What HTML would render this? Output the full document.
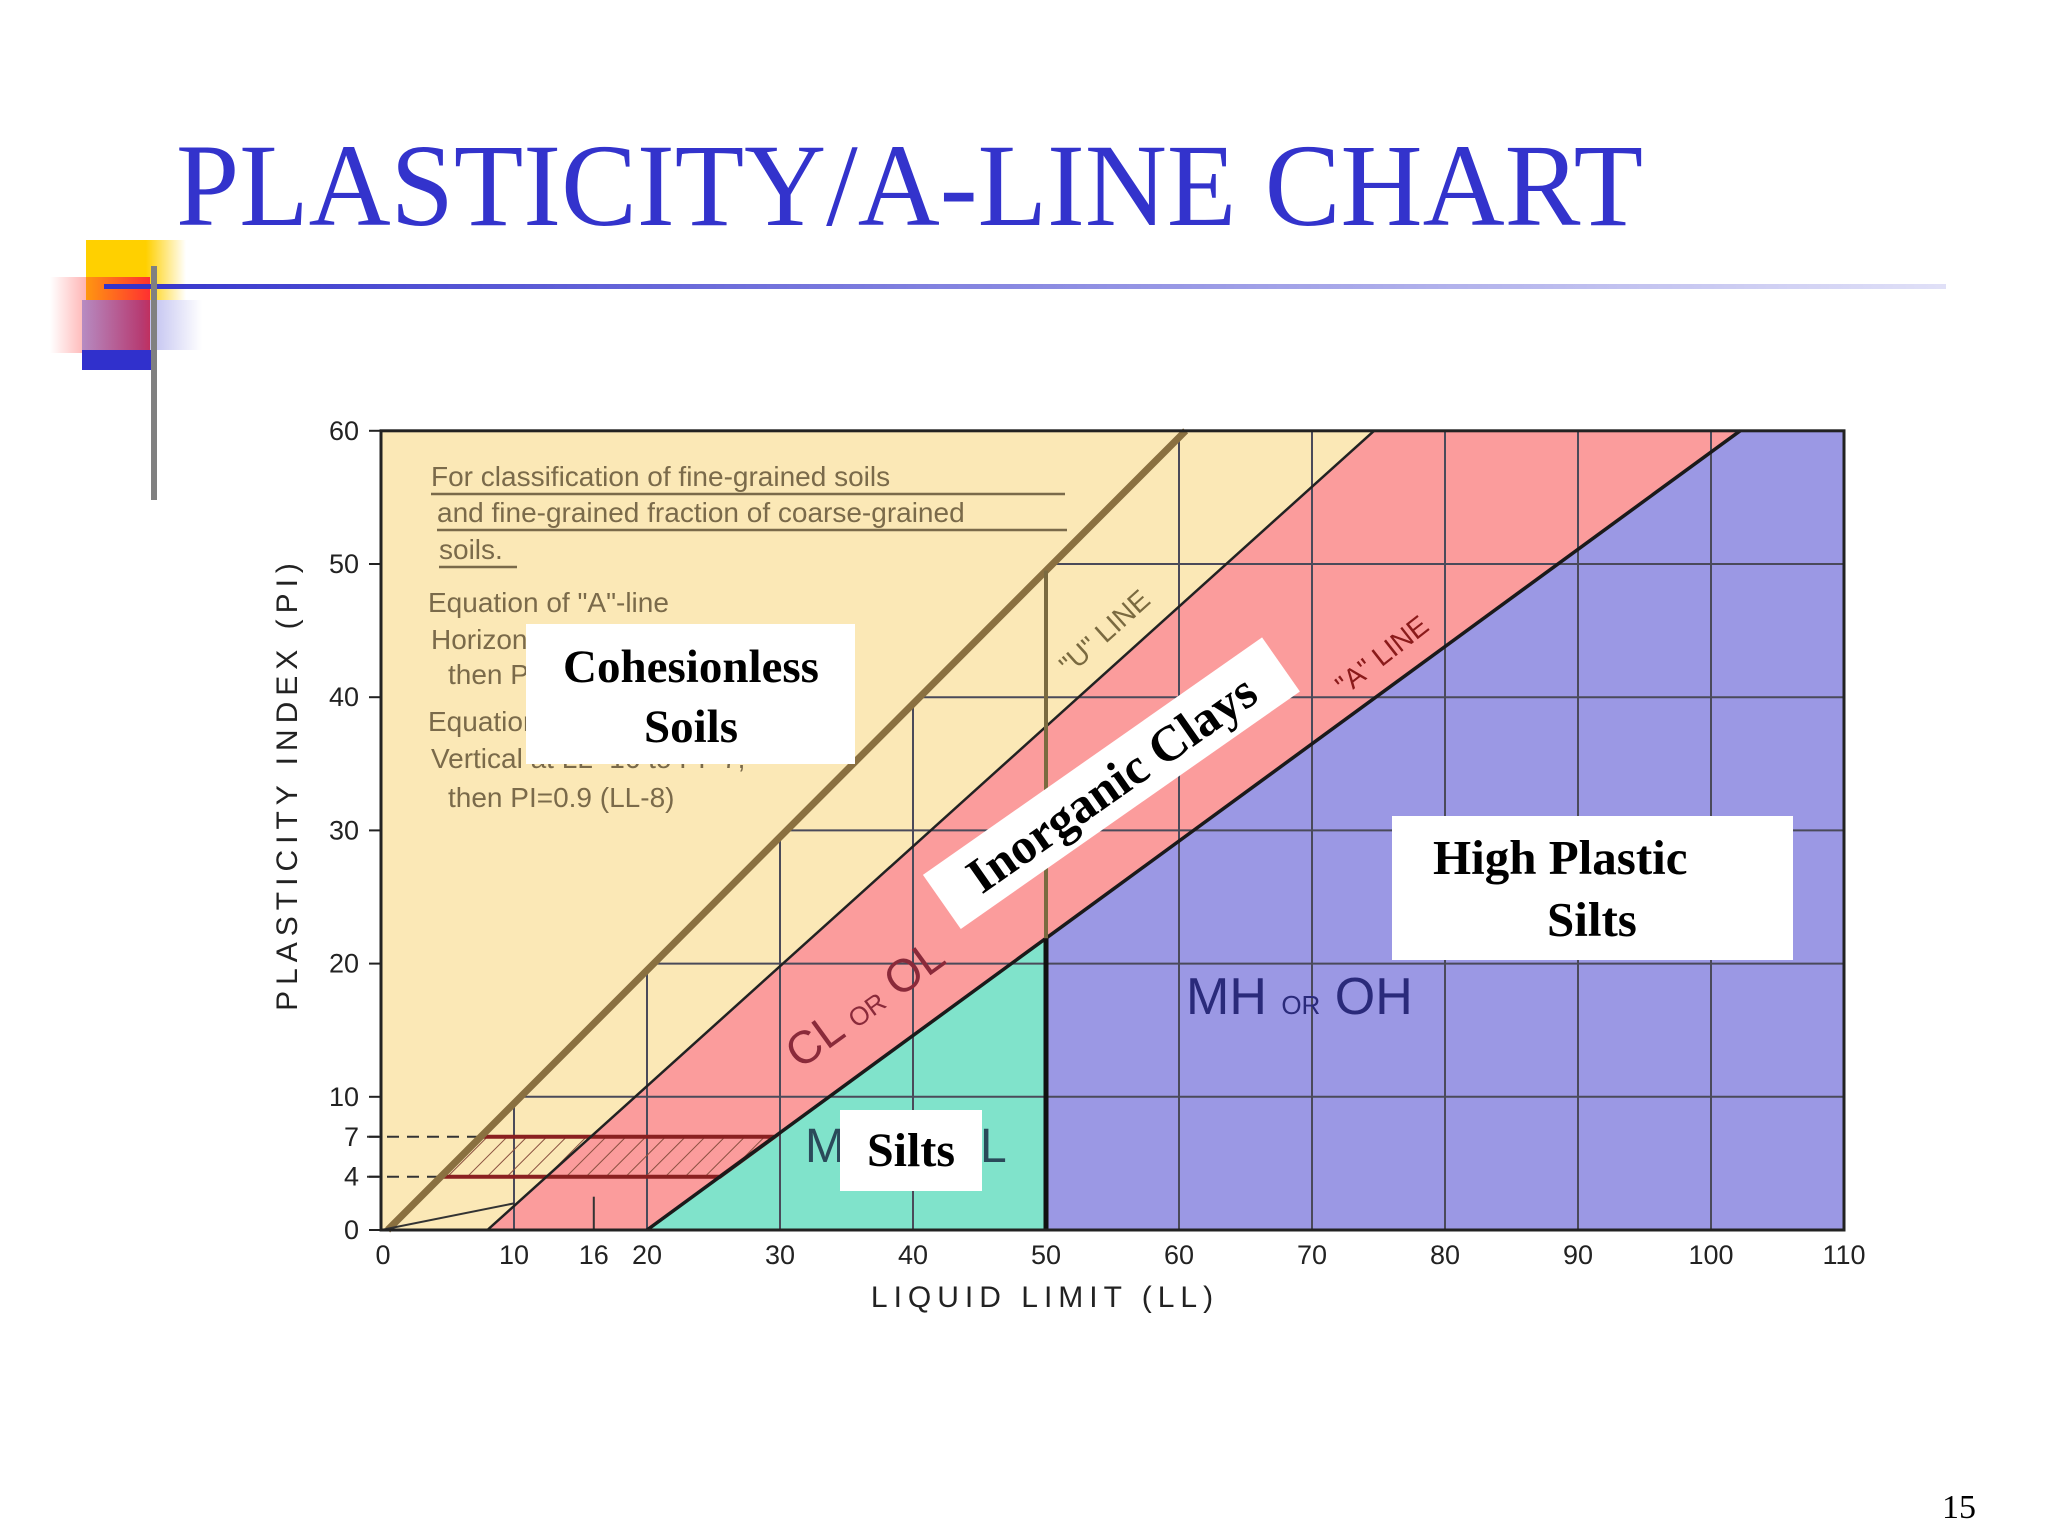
<!DOCTYPE html>
<html><head><meta charset="utf-8"><style>
html,body{margin:0;padding:0;background:#fff;}
svg{display:block;}
</style></head><body>
<svg id="s" width="2048" height="1536" viewBox="0 0 2048 1536" xmlns="http://www.w3.org/2000/svg">
<defs>
<linearGradient id="hl" x1="0" x2="1"><stop offset="0" stop-color="#3333cc"/><stop offset="1" stop-color="#3333cc" stop-opacity="0.15"/></linearGradient>
<linearGradient id="rg" x1="1" x2="0" y1="0" y2="0"><stop offset="0" stop-color="#ff3030"/><stop offset="1" stop-color="#ff3030" stop-opacity="0"/></linearGradient>
<linearGradient id="yg" x1="0" x2="1"><stop offset="0.6" stop-color="#ffd000"/><stop offset="1" stop-color="#ffd000" stop-opacity="0"/></linearGradient>
<linearGradient id="bg" x1="0" x2="1"><stop offset="0.5" stop-color="#3030cc"/><stop offset="1" stop-color="#3030cc" stop-opacity="0"/></linearGradient>
<pattern id="hatch" width="14" height="14" patternUnits="userSpaceOnUse" patternTransform="rotate(45)"><line x1="0" y1="0" x2="0" y2="14" stroke="#8a5040" stroke-width="2"/></pattern>
</defs>
<rect width="2048" height="1536" fill="#fff"/>
<g>
<rect x="86" y="240" width="100" height="60" fill="url(#yg)"/>
<rect x="50" y="277" width="100" height="76" fill="url(#rg)"/>
<rect x="82" y="300" width="120" height="50" fill="url(#bg)" opacity="0.35"/>
<rect x="82" y="350" width="70" height="20" fill="#3030cc"/>
<rect x="104" y="284" width="1842" height="5" fill="url(#hl)"/>
<rect x="151" y="266" width="6" height="234" fill="#808080"/>
</g>
<text x="176" y="225" font-family="Liberation Serif, serif" font-size="118" fill="#3333cc" textLength="1467" lengthAdjust="spacingAndGlyphs">PLASTICITY/A-LINE CHART</text>
<g id="chart"></g>
<text x="1942" y="1518" font-family="Liberation Serif, serif" font-size="34" fill="#000">15</text>
</svg>
<script>
const xTicks=[0,10,16,20,30,40,50,60,70,80,90,100,110];
const yTicks=[0,4,7,10,20,30,40,50,60];
const gridX=[10,20,30,40,50,60,70,80,90,100];
const gridY=[10,20,30,40,50];
const aLine=[0.73,20];   // PI = 0.73(LL-20)
const uLine=[0.9,8];     // PI = 0.9(LL-8)
const brownLine=[1.0,0.5];
const llMax=110, piMax=60, llSplit=50, clmlBand=[4,7];

const NS='http://www.w3.org/2000/svg';
const X=v=>381+v*13.3, Y=v=>1230-v*13.32;
const g=document.getElementById('chart');
function el(t,a,p){const e=document.createElementNS(NS,t);for(const k in a)e.setAttribute(k,a[k]);(p||g).appendChild(e);return e;}
const pts=a=>a.map(p=>X(p[0])+','+Y(p[1])).join(' ');
const aLL=pi=>pi/aLine[0]+aLine[1], uLL=pi=>pi/uLine[0]+uLine[1], bLL=pi=>pi/brownLine[0]+brownLine[1];
const aPI=ll=>aLine[0]*(ll-aLine[1]);

let e;
e=el('rect',{x:X(0),y:Y(piMax),width:X(llMax)-X(0),height:Y(0)-Y(piMax),fill:'#fbe8b6'});


e=el('polygon',{points:pts([[uLine[1],0],[uLL(piMax),piMax],[aLL(piMax),piMax],[aLine[1],0]]),fill:'#fb9c9c'});


e=el('polygon',{points:pts([[aLine[1],0],[llSplit,0],[llSplit,aPI(llSplit)]]),fill:'#80e3cb'});


e=el('polygon',{points:pts([[llSplit,0],[llMax,0],[llMax,piMax],[aLL(piMax),piMax],[llSplit,aPI(llSplit)]]),fill:'#9b98e4'});



gridY.forEach(v=>{const l=el('line',{x1:X(bLL(v)),x2:X(llMax),y1:Y(v),y2:Y(v),stroke:'#4a4a5a','stroke-width':2});

});
gridX.forEach(v=>{const l=el('line',{x1:X(v),x2:X(v),y1:Y(0),y2:Y(Math.min(piMax,v-brownLine[1])),stroke:'#4a4a5a','stroke-width':2});

});

e=el('polygon',{points:pts([[bLL(clmlBand[0]),clmlBand[0]],[aLL(clmlBand[0]),clmlBand[0]],[aLL(clmlBand[1]),clmlBand[1]],[bLL(clmlBand[1]),clmlBand[1]]]),fill:'url(#hatch)',stroke:'#8a2020','stroke-width':4});


yTicks.filter(v=>v===4||v===7).forEach(v=>{const l=el('line',{x1:X(0)-14,x2:X(bLL(v)),y1:Y(v),y2:Y(v),stroke:'#333','stroke-width':2,'stroke-dasharray':'12,8'});

});
e=el('line',{x1:X(16),x2:X(16),y1:Y(0),y2:Y(2.5),stroke:'#333','stroke-width':2});



e=el('line',{x1:X(brownLine[1]),y1:Y(0),x2:X(bLL(piMax)),y2:Y(piMax),stroke:'#8a7040','stroke-width':7});


e=el('line',{x1:X(uLine[1]),y1:Y(0),x2:X(uLL(piMax)),y2:Y(piMax),stroke:'#222','stroke-width':2.5});


e=el('line',{x1:X(aLine[1]),y1:Y(0),x2:X(aLL(piMax)),y2:Y(piMax),stroke:'#1a1a1a','stroke-width':3.5});


e=el('line',{x1:X(llSplit),y1:Y(0),x2:X(llSplit),y2:Y(aPI(llSplit)),stroke:'#111','stroke-width':5});


e=el('line',{x1:X(llSplit),y1:Y(aPI(llSplit)),x2:X(llSplit),y2:Y(llSplit-brownLine[1]),stroke:'#7a6a40','stroke-width':4});


e=el('line',{x1:X(0),y1:Y(0),x2:X(uLine[1]+2),y2:Y(2),stroke:'#333','stroke-width':2});



e=el('rect',{x:X(0),y:Y(piMax),width:X(llMax)-X(0),height:Y(0)-Y(piMax),fill:'none',stroke:'#222','stroke-width':3});



const tf='Liberation Sans, sans-serif';
yTicks.forEach(v=>{
 const l=el('line',{x1:X(0)-12,x2:X(0),y1:Y(v),y2:Y(v),stroke:'#222','stroke-width':2});
 
 
 const t=el('text',{x:X(0)-22,y:Y(v)+9,'text-anchor':'end','font-family':tf,'font-size':27,fill:'#222'});
 t.textContent=v;
 
 
});
xTicks.forEach(v=>{
 const t=el('text',{x:X(v)+(v===0?2:0),y:Y(0)+34,'text-anchor':'middle','font-family':tf,'font-size':27,fill:'#222'});
 t.textContent=v;
 
 
});
e=el('text',{x:1045,y:1307,'text-anchor':'middle','font-family':tf,'font-size':30,fill:'#222','letter-spacing':6});
e.textContent='LIQUID LIMIT (LL)';


e=el('text',{x:0,y:0,'text-anchor':'middle','font-family':tf,'font-size':30,fill:'#222','letter-spacing':6,transform:'translate(297,784) rotate(-90)'});
e.textContent='PLASTICITY INDEX (PI)';



const notes=[['For classification of fine-grained soils',431,486],['and fine-grained fraction of coarse-grained',437,522],['soils.',439,559],['Equation of "A"-line',428,612],['Horizontal at PI=4 to LL=25.5,',431,649],['then PI=0.73 (LL-20)',448,684],['Equation of "U"-line',428,731],['Vertical at LL=16 to PI=7,',431,768],['then PI=0.9 (LL-8)',448,807]];
notes.forEach((n,i)=>{const t=el('text',{x:n[1],y:n[2],'font-family':tf,'font-size':28,fill:'#7a6a4a'});
t.textContent=n[0];

});
[[431,494,1065],[437,530,1067],[439,567,517]].forEach(u=>{const l=el('line',{x1:u[0],x2:u[2],y1:u[1],y2:u[1],stroke:'#7a6a4a','stroke-width':2.5});

});

e=el('text',{x:0,y:0,'font-family':tf,'font-size':46,fill:'#8a2a3a',transform:'translate(800,1070) rotate(-36)'});
e.innerHTML='CL <tspan font-size="26">OR</tspan> OL';


e=el('text',{x:1186,y:1014,'font-family':tf,'font-size':52,fill:'#2a2a7a'});
e.innerHTML='MH <tspan font-size="26">OR</tspan> OH';


e=el('text',{x:805,y:1162,'font-family':tf,'font-size':48,fill:'#2a4a5a'});
e.textContent='M';


e=el('text',{x:980,y:1162,'font-family':tf,'font-size':48,fill:'#2a4a5a'});
e.textContent='L';


e=el('text',{x:0,y:0,'font-family':tf,'font-size':28,fill:'#7a6a40',transform:'translate(1070,676) rotate(-42)'});
e.textContent='"U" LINE';


e=el('text',{x:0,y:0,'font-family':tf,'font-size':28,fill:'#8a1a1a',transform:'translate(1345,696) rotate(-38)'});
e.textContent='"A" LINE';



const sf='Liberation Serif, serif';
function box(x,y,w,h,name){const r=el('rect',{x:x,y:y,width:w,height:h,fill:'#fff'});return r;}
box(526,624,329,140,'cohesionless-box');
e=el('text',{x:691,y:682,'text-anchor':'middle','font-family':sf,'font-weight':'bold','font-size':47,fill:'#000'});
e.textContent='Cohesionless';


e=el('text',{x:691,y:742,'text-anchor':'middle','font-family':sf,'font-weight':'bold','font-size':47,fill:'#000'});
e.textContent='Soils';


box(1392,816,401,144,'high-plastic-box');
e=el('text',{x:1433,y:874,'font-family':sf,'font-weight':'bold','font-size':49,fill:'#000'});
e.textContent='High Plastic';


e=el('text',{x:1547,y:936,'font-family':sf,'font-weight':'bold','font-size':49,fill:'#000'});
e.textContent='Silts';


box(840,1110,142,81,'silts-box');
e=el('text',{x:911,y:1166,'text-anchor':'middle','font-family':sf,'font-weight':'bold','font-size':48,fill:'#000'});
e.textContent='Silts';


const ig=el('g',{transform:'translate(1112,784) rotate(-35)'});


e=el('rect',{x:-207,y:-34,width:414,height:66,fill:'#fff'},ig);


e=el('text',{x:0,y:16,'text-anchor':'middle','font-family':sf,'font-weight':'bold','font-size':50,fill:'#000'},ig);
e.textContent='Inorganic Clays';


</script>
</body></html>
